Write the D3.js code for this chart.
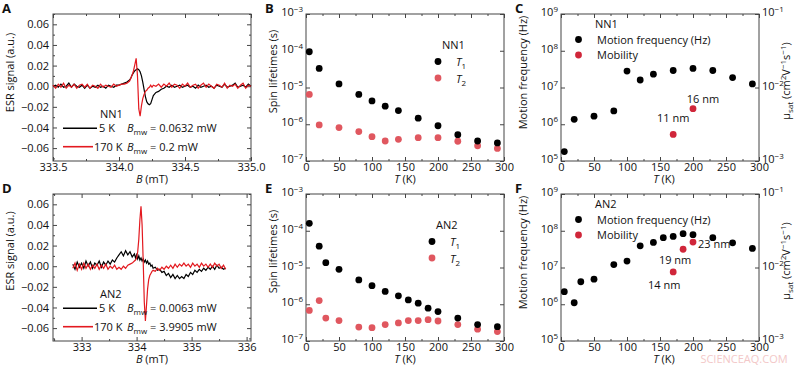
<!DOCTYPE html>
<html>
<head>
<meta charset="utf-8">
<script src="https://cdn.jsdelivr.net/npm/d3@7"></script>
<style>
  body { margin: 0; background: #fff; }
  text { font-family: 'Open Sans', sans-serif; fill: #111; }
</style>
</head>
<body>
<div id="container"></div>
<script>
// ---------- data ----------
// A: NN1 ESR spectra
const aField = [333.50, 333.52, 333.54, 333.56, 333.58, 333.60, 333.62, 333.64, 333.66, 333.68,
  333.70, 333.72, 333.74, 333.76, 333.78, 333.80, 333.82, 333.84, 333.86, 333.88,
  333.90, 333.92, 333.94, 333.96, 333.98, 334.00, 334.02, 334.04, 334.06,
  334.08, 334.09, 334.10, 334.11, 334.12, 334.13, 334.14, 334.15, 334.16, 334.17,
  334.18, 334.19, 334.20, 334.21, 334.22, 334.23, 334.24, 334.25, 334.26,
  334.28, 334.30, 334.32, 334.34, 334.36, 334.38, 334.40, 334.42, 334.44, 334.46,
  334.48, 334.50, 334.52, 334.54, 334.56, 334.58, 334.60, 334.62, 334.64, 334.66,
  334.68, 334.70, 334.72, 334.74, 334.76, 334.78, 334.80, 334.82, 334.84, 334.86,
  334.88, 334.90, 334.92, 334.94, 334.96, 334.98, 335.00];
const aSignal5K = [0.000, 0.001, -0.001, 0.002, -0.001, 0.000, 0.003, -0.001, 0.002, 0.000,
  -0.001, 0.001, -0.002, 0.001, -0.002, 0.000, -0.001, 0.001, -0.001, 0.000,
  -0.002, 0.001, 0.000, -0.001, 0.001, 0.001, 0.002, 0.003, 0.004,
  0.006, 0.008, 0.011, 0.013, 0.015, 0.016, 0.017, 0.016, 0.014, 0.010,
  0.004, -0.003, -0.010, -0.015, -0.017, -0.018, -0.017, -0.013, -0.009,
  -0.006, -0.005, -0.003, -0.002, 0.000, -0.001, 0.001, -0.001, 0.000, 0.001,
  -0.001, 0.000, 0.001, -0.001, 0.000, -0.002, 0.001, -0.001, 0.000, 0.001,
  -0.001, 0.000, -0.002, 0.001, 0.000, -0.001, 0.002, -0.001, 0.000, 0.001,
  0.003, -0.001, 0.000, 0.001, -0.001, 0.002, 0.000];
const aSignal170K = [0.001, -0.002, 0.002, -0.001, 0.003, -0.002, 0.001, -0.001, 0.002, -0.002,
  0.001, 0.002, -0.001, 0.002, -0.002, 0.001, 0.000, -0.002, 0.002, -0.001,
  0.001, 0.000, -0.001, 0.002, 0.000, 0.001, 0.002, 0.002, 0.003,
  0.005, 0.008, 0.011, 0.015, 0.021, 0.027, 0.010, -0.022, -0.029, -0.019,
  -0.012, -0.008, -0.005, -0.004, -0.002, -0.001, 0.001, -0.001, 0.001,
  0.000, 0.002, -0.001, 0.002, 0.000, 0.003, -0.001, 0.002, 0.001, -0.002,
  0.002, 0.000, 0.003, -0.001, 0.001, 0.002, -0.002, 0.001, 0.003, -0.001,
  0.002, 0.000, -0.002, 0.002, 0.001, -0.001, 0.003, -0.002, 0.001, 0.000,
  0.002, -0.002, 0.001, 0.003, -0.002, 0.001, 0.000];

// D: AN2 ESR spectra
const dField = [332.84, 332.88, 332.92, 332.96, 333.00, 333.04, 333.08, 333.12, 333.16, 333.20,
  333.24, 333.28, 333.32, 333.36, 333.40, 333.44, 333.48, 333.52, 333.56, 333.60,
  333.64, 333.68, 333.72, 333.76, 333.80, 333.84, 333.88, 333.92, 333.96,
  333.98, 334.00, 334.02, 334.04, 334.06, 334.08, 334.10, 334.12, 334.14, 334.16,
  334.18, 334.20, 334.22, 334.24, 334.26, 334.28, 334.30,
  334.34, 334.38, 334.42, 334.46, 334.50, 334.54, 334.58, 334.62, 334.66, 334.70,
  334.74, 334.78, 334.82, 334.86, 334.90, 334.94, 334.98, 335.02, 335.06, 335.10,
  335.14, 335.18, 335.22, 335.26, 335.30, 335.34, 335.38, 335.42, 335.46, 335.50,
  335.54, 335.58, 335.62];
const dSignal5K = [0.002, -0.003, 0.004, -0.001, 0.003, -0.002, 0.005, 0.000, 0.004, -0.002,
  0.003, 0.001, 0.005, -0.001, 0.004, 0.001, 0.005, 0.002, 0.006, 0.004,
  0.008, 0.011, 0.014, 0.010, 0.015, 0.011, 0.014, 0.009, 0.012,
  0.008, 0.011, 0.007, 0.010, 0.006, 0.008, 0.005, 0.007, 0.004, 0.006,
  0.003, 0.005, 0.002, 0.003, 0.000, 0.001, -0.002,
  -0.001, -0.004, -0.003, -0.006, -0.005, -0.009, -0.007, -0.011, -0.008, -0.012,
  -0.009, -0.012, -0.010, -0.012, -0.008, -0.010, -0.006, -0.008, -0.004, -0.006,
  -0.003, -0.005, -0.002, -0.004, -0.001, -0.003, 0.000, -0.003, 0.001, -0.002,
  -0.001, -0.003, -0.002];
const dSignal170K = [-0.002, 0.003, -0.004, 0.002, -0.003, 0.003, -0.002, 0.002, -0.003, 0.001,
  -0.002, 0.002, -0.003, 0.001, -0.002, 0.002, -0.003, 0.000, -0.002, 0.001,
  -0.003, -0.001, -0.003, 0.000, -0.002, 0.001, 0.002, 0.003, 0.005,
  0.006, 0.008, 0.014, 0.026, 0.045, 0.058, 0.040, 0.005, -0.035, -0.053,
  -0.038, -0.022, -0.013, -0.009, -0.007, -0.005, -0.004,
  -0.005, -0.002, -0.004, -0.001, -0.003, 0.000, -0.002, 0.001, -0.002, 0.002,
  -0.001, 0.002, 0.000, 0.003, 0.000, 0.002, -0.001, 0.003, 0.000, 0.002,
  -0.001, 0.003, 0.000, 0.002, -0.001, 0.002, -0.001, 0.003, 0.000, 0.002,
  -0.002, 0.001, -0.003];

// B / C: NN1
const tempsNN1 = [5, 20, 50, 80, 100, 120, 140, 170, 200, 230, 260, 290];
const t1NN1 = [9.4e-5, 3.3e-5, 1.25e-5, 6.5e-6, 4.3e-6, 3.1e-6, 2.35e-6, 1.46e-6, 9.1e-7, 5.2e-7, 3.5e-7, 3.1e-7];
const t2NN1 = [6.5e-6, 9.6e-7, 8.1e-7, 6.3e-7, 4.6e-7, 3.5e-7, 3.9e-7, 4.3e-7, 4.3e-7, 3.45e-7, 2.6e-7, 2.2e-7];
const motionNN1 = [1.8e5, 1.36e6, 1.66e6, 2.3e6, 2.8e7, 1.6e7, 2.3e7, 2.9e7, 3.3e7, 2.9e7, 1.86e7, 1.25e7];
const mobTempsNN1 = [170, 200];
const mobilityNN1 = [2.3e-3, 5.15e-3];
const mobLabelsNN1 = ['11 nm', '16 nm'];

// E / F: AN2
const tempsAN2 = [5, 20, 30, 50, 80, 100, 120, 140, 155, 170, 185, 200, 230, 260, 290];
const t1AN2 = [1.59e-4, 3.8e-5, 1.35e-5, 8.9e-6, 4.6e-6, 3.2e-6, 2.24e-6, 1.7e-6, 1.31e-6, 1.07e-6, 7.8e-7, 6.3e-7, 4.2e-7, 2.8e-7, 2.45e-7];
const t2AN2 = [6.8e-7, 1.26e-6, 4.2e-7, 3.6e-7, 2.4e-7, 2.3e-7, 2.8e-7, 3.1e-7, 3.6e-7, 3.6e-7, 3.8e-7, 3.5e-7, 2.8e-7, 2.1e-7, 1.8e-7];
const motionAN2 = [2.2e6, 1.1e6, 4.1e6, 4.8e6, 1.2e7, 1.5e7, 3.9e7, 4.8e7, 6.5e7, 7.0e7, 8.3e7, 7.8e7, 6.5e7, 4.7e7, 3.3e7];
const mobTempsAN2 = [170, 185, 200];
const mobilityAN2 = [8.7e-3, 1.77e-2, 2.22e-2];
const mobLabelsAN2 = ['14 nm', '19 nm', '23 nm'];

// tick values
const esrTicksY = [-0.06, -0.04, -0.02, 0, 0.02, 0.04, 0.06];
const esrMinorY = [-0.07, -0.05, -0.03, -0.01, 0.01, 0.03, 0.05, 0.07];
const aTicksX = [333.5, 334.0, 334.5, 335.0];
const aMinorX = [333.75, 334.25, 334.75];
const dTicksX = [333, 334, 335, 336];
const dMinorX = [332.5, 333.5, 334.5, 335.5];
const tempTicks = [0, 50, 100, 150, 200, 250, 300];
const tempMinor = [25, 75, 125, 175, 225, 275];
const lifeTicks = [1e-7, 1e-6, 1e-5, 1e-4, 1e-3];
const freqTicks = [1e5, 1e6, 1e7, 1e8, 1e9];
const mobTicks = [1e-3, 1e-2, 1e-1];

// ---------- layout ----------
const w = 800, h = 368;
const cols = [53, 306, 561], pw = 198;
const rows = [14, 194], ph = 147;
const black = '#000', lineRed = '#e3191f', dotRed = '#e0575f', mobRed = '#d0263a';

const svg = d3.select('#container').append('svg').attr('width', w).attr('height', h);

function styleText(sel, size) {
  sel.selectAll('text').attr('font-size', size).attr('font-family', "'Open Sans', sans-serif").attr('fill', '#111');
}

// log tick labels as 10 with a raised exponent
function supLabels(g) {
  g.selectAll('.tick text').attr('dy', '0.15em').each(function (d) {
    const e = Math.round(Math.log10(d));
    const t = d3.select(this).text(null);
    t.append('tspan').text('10');
    t.append('tspan').attr('dy', '-0.5em').attr('font-size', 8).text(e < 0 ? '\u2212' + (-e) : e);
  });
}

function axes(x, y, xt, xm, yt, ym, fx, fy, logY, y2) {
  const [x0, x1] = x.range();
  const [yb, yt0] = y.range();
  const g = svg.append('g');
  const bottom = g.append('g').attr('transform', 'translate(0,' + yb + ')')
    .call(d3.axisBottom(x).tickValues(xt).tickSize(-4).tickPadding(2).tickFormat(fx));
  styleText(bottom, 11);
  g.append('g').attr('transform', 'translate(0,' + yb + ')')
    .call(d3.axisBottom(x).tickValues(xm).tickSize(-2).tickFormat(''));
  g.append('g').attr('transform', 'translate(0,' + yt0 + ')')
    .call(d3.axisTop(x).tickValues(xt).tickSize(-4).tickFormat(''));
  g.append('g').attr('transform', 'translate(0,' + yt0 + ')')
    .call(d3.axisTop(x).tickValues(xm).tickSize(-2).tickFormat(''));
  const left = g.append('g').attr('transform', 'translate(' + x0 + ',0)')
    .call(d3.axisLeft(y).tickValues(yt).tickSize(-4).tickPadding(logY ? 3 : 4).tickFormat(fy));
  styleText(left, 11);
  if (logY) supLabels(left);
  if (ym) {
    g.append('g').attr('transform', 'translate(' + x0 + ',0)')
      .call(d3.axisLeft(y).tickValues(ym).tickSize(-2).tickFormat(''));
    g.append('g').attr('transform', 'translate(' + x1 + ',0)')
      .call(d3.axisRight(y).tickValues(ym).tickSize(-2).tickFormat(''));
  }
  if (y2) {
    const right = g.append('g').attr('transform', 'translate(' + x1 + ',0)')
      .call(d3.axisRight(y2).tickValues(mobTicks).tickSize(-4).tickPadding(3).tickFormat(''));
    styleText(right, 11);
    supLabels(right);
  } else {
    g.append('g').attr('transform', 'translate(' + x1 + ',0)')
      .call(d3.axisRight(y).tickValues(yt).tickSize(-4).tickFormat(''));
  }
  g.selectAll('.domain').remove();
  g.selectAll('.tick line').attr('stroke', '#444');
  g.append('rect').attr('x', x0).attr('y', yt0).attr('width', x1 - x0).attr('height', yb - yt0)
    .attr('fill', 'none').attr('stroke', '#444').attr('stroke-width', 1);
}

function text(x, y, str, opts) {
  const t = svg.append('text').attr('x', x).attr('y', y).attr('font-size', (opts && opts.size) || 11).text(str);
  if (opts && opts.anchor) t.attr('text-anchor', opts.anchor);
  if (opts && opts.bold) t.attr('font-weight', 'bold').attr('font-family', "'Liberation Sans', Arial, sans-serif");
  return t;
}

function yTitle(x, cy, parts) {
  const t = svg.append('text').attr('transform', 'translate(' + x + ',' + cy + ') rotate(-90)')
    .attr('text-anchor', 'middle').attr('font-size', 11);
  parts.forEach((p) => {
    const s = t.append('tspan').text(p.t);
    if (p.sub) s.attr('font-size', 8).attr('dy', p.dy);
    if (p.dy && !p.sub) s.attr('dy', p.dy);
  });
  return t;
}

function xTitle(cx, y, letter, unit) {
  const t = svg.append('text').attr('x', cx).attr('y', y).attr('text-anchor', 'middle').attr('font-size', 11);
  t.append('tspan').attr('font-style', 'italic').text(letter);
  t.append('tspan').text(' (' + unit + ')');
}

// ---------- ESR panels (A, D) ----------
function esrPanel(row, xDomain, xt, xm, fx, field, s5, s170, sample, p5, p170, letter) {
  const top = rows[row];
  const x = d3.scaleLinear().domain(xDomain).range([cols[0], cols[0] + pw]);
  const y = d3.scaleLinear().domain([-0.0725, 0.07]).range([top + ph, top]);
  axes(x, y, xt, xm, esrTicksY, esrMinorY, fx, d3.format('.2f'), false);
  const line = d3.line().x((d) => x(d[0])).y((d) => y(d[1]));
  svg.append('path').datum(d3.zip(field, s5)).attr('d', line)
    .attr('fill', 'none').attr('stroke', black).attr('stroke-width', 1.2);
  svg.append('path').datum(d3.zip(field, s170)).attr('d', line)
    .attr('fill', 'none').attr('stroke', lineRed).attr('stroke-width', 1.2);

  // legend
  text(100, top + 103.5, sample);
  svg.append('line').attr('x1', 63).attr('x2', 97).attr('y1', top + 114.3).attr('y2', top + 114.3)
    .attr('stroke', black).attr('stroke-width', 1.6);
  svg.append('line').attr('x1', 63).attr('x2', 93).attr('y1', top + 132.7).attr('y2', top + 132.7)
    .attr('stroke', lineRed).attr('stroke-width', 1.6);
  text(99, top + 118.3, '5 K');
  text(94, top + 136.7, '170 K');
  [[p5, top + 118.3], [p170, top + 136.7]].forEach(([p, yy]) => {
    const t = svg.append('text').attr('x', 127).attr('y', yy).attr('font-size', 11);
    t.append('tspan').attr('font-style', 'italic').text('B');
    t.append('tspan').attr('font-size', 8).attr('dy', 3).text('mw');
    t.append('tspan').attr('dy', -3).text(' = ' + p);
  });

  yTitle(14, top + (row ? 57 : 58.5), [{ t: 'ESR signal (a.u.)' }]);
  xTitle(152, top + 168.5, 'B', 'mT');
  text(2, top - 1, letter, { size: 13, bold: true });
}

esrPanel(0, [333.5, 335.0], aTicksX, aMinorX, d3.format('.1f'), aField, aSignal5K, aSignal170K, 'NN1', '0.0632 mW', '0.2 mW', 'A');
esrPanel(1, [332.48, 336.08], dTicksX, dMinorX, d3.format('d'), dField, dSignal5K, dSignal170K, 'AN2', '0.0063 mW', '3.9905 mW', 'D');

// ---------- spin lifetime panels (B, E) ----------
function lifetimePanel(row, temps, t1, t2, sample, lx, letter) {
  const top = rows[row];
  const x = d3.scaleLinear().domain([0, 300]).range([cols[1], cols[1] + pw]);
  const y = d3.scaleLog().domain([1e-7, 1e-3]).range([top + ph, top]);
  axes(x, y, tempTicks, tempMinor, lifeTicks, null, d3.format('d'), null, true);

  svg.append('g').selectAll('circle').data(d3.zip(temps, t2)).enter().append('circle')
    .attr('cx', (d) => x(d[0])).attr('cy', (d) => y(d[1])).attr('r', 3.4).attr('fill', dotRed);
  svg.append('g').selectAll('circle').data(d3.zip(temps, t1)).enter().append('circle')
    .attr('cx', (d) => x(d[0])).attr('cy', (d) => y(d[1])).attr('r', 3.4).attr('fill', black);

  text(lx + 4, top + 35, sample);
  svg.append('circle').attr('cx', lx).attr('cy', top + 47.5).attr('r', 3.4).attr('fill', black);
  svg.append('circle').attr('cx', lx).attr('cy', top + 64).attr('r', 3.4).attr('fill', dotRed);
  [['1', top + 52], ['2', top + 68.5]].forEach(([n, yy]) => {
    const t = svg.append('text').attr('x', lx + 18).attr('y', yy).attr('font-size', 11);
    t.append('tspan').attr('font-style', 'italic').text('T');
    t.append('tspan').attr('font-size', 8).attr('dy', 3).text(n);
  });

  yTitle(277, top + 57.5, [{ t: 'Spin lifetimes (s)' }]);
  xTitle(405, top + 168.5, 'T', 'K');
  text(265, top - 1, letter, { size: 13, bold: true });
}

lifetimePanel(0, tempsNN1, t1NN1, t2NN1, 'NN1', 438, 'B');
lifetimePanel(1, tempsAN2, t1AN2, t2AN2, 'AN2', 432, 'E');

// ---------- motion frequency / mobility panels (C, F) ----------
function motionPanel(row, temps, motion, mobT, mob, labels, labelPos, letter) {
  const top = rows[row];
  const x = d3.scaleLinear().domain([0, 300]).range([cols[2], cols[2] + pw]);
  const y = d3.scaleLog().domain([1e5, 1e9]).range([top + ph, top]);
  const y2 = d3.scaleLog().domain([1e-3, 1e-1]).range([top + ph, top]);
  axes(x, y, tempTicks, tempMinor, freqTicks, null, d3.format('d'), null, true, y2);

  svg.append('g').selectAll('circle').data(d3.zip(temps, motion)).enter().append('circle')
    .attr('cx', (d) => x(d[0])).attr('cy', (d) => y(d[1])).attr('r', 3.4).attr('fill', black);
  svg.append('g').selectAll('circle').data(d3.zip(mobT, mob)).enter().append('circle')
    .attr('cx', (d) => x(d[0])).attr('cy', (d) => y2(d[1])).attr('r', 3.4).attr('fill', mobRed);
  d3.zip(mobT, mob, labels, labelPos).forEach(([t, m, l, p]) => {
    text(x(t) + p[0], y2(m) + p[1], l, { anchor: p[2] });
  });

  text(595, top + 14, row ? 'AN2' : 'NN1');
  svg.append('circle').attr('cx', 578.5).attr('cy', top + 25.5).attr('r', 3.4).attr('fill', black);
  svg.append('circle').attr('cx', 578.5).attr('cy', top + 41).attr('r', 3.4).attr('fill', mobRed);
  text(597, top + 29.5, 'Motion frequency (Hz)');
  text(597, top + 45, 'Mobility');

  yTitle(527, top + 58.5, [{ t: 'Motion frequency (Hz)' }]);
  yTitle(790, top + 67, [
    { t: '\u03bc' }, { t: 'sat', sub: true, dy: 3 }, { t: ' (cm', dy: -3 },
    { t: '2', sub: true, dy: -4 }, { t: 'V', dy: 4 }, { t: '\u22121', sub: true, dy: -4 },
    { t: 's', dy: 4 }, { t: '\u22121', sub: true, dy: -4 }, { t: ')', dy: 4 }
  ]);
  xTitle(664, top + 168.5, 'T', 'K');
  text(515, top - 1, letter, { size: 13, bold: true });
}

motionPanel(0, tempsNN1, motionNN1, mobTempsNN1, mobilityNN1, mobLabelsNN1,
  [[0, -12, 'middle'], [10, -6, 'middle']], 'C');
motionPanel(1, tempsAN2, motionAN2, mobTempsAN2, mobilityAN2, mobLabelsAN2,
  [[-9, 17, 'middle'], [-8, 15, 'middle'], [5, 6, 'start']], 'F');

// watermark
svg.append('text').attr('x', 744).attr('y', 363).attr('text-anchor', 'middle')
  .attr('font-size', 11).style('fill', '#f3c8c8').text('SCIENCEAQ.COM');
</script>
</body>
</html>
